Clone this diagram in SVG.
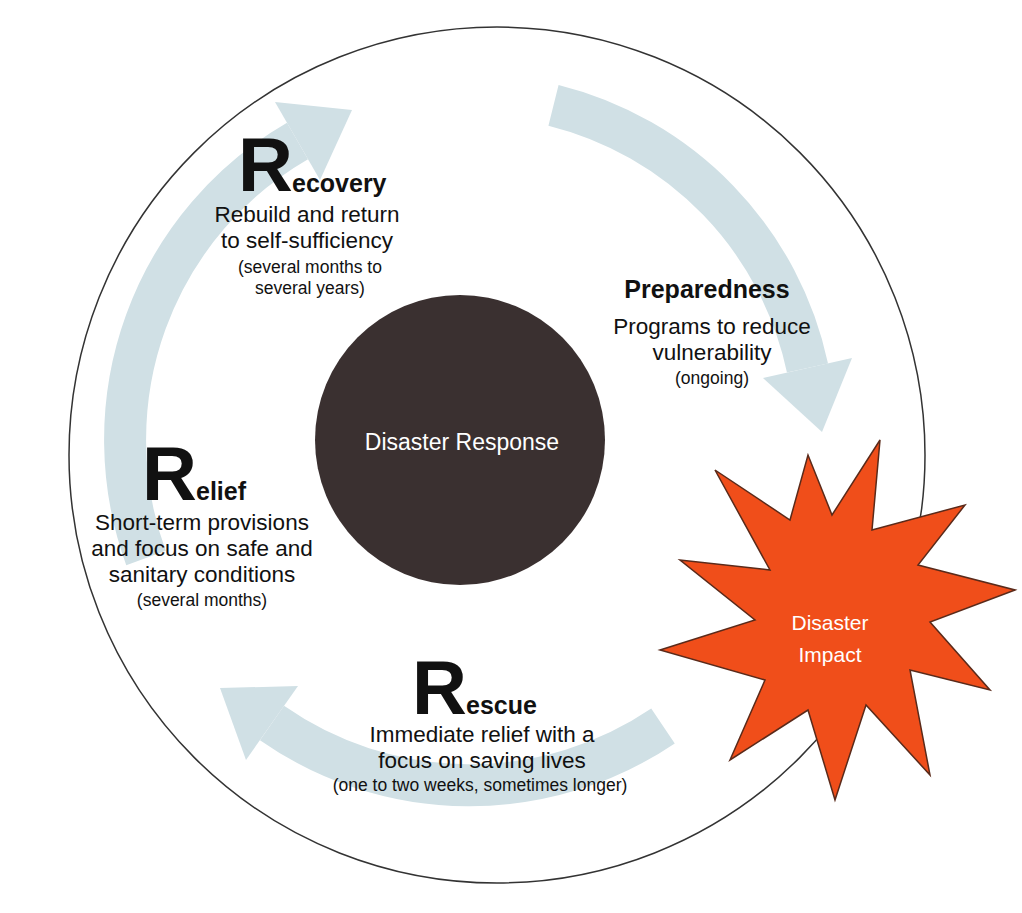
<svg xmlns="http://www.w3.org/2000/svg" width="1022" height="913" viewBox="0 0 1022 913">
<style>
.arc{fill:none;stroke:#d0e0e5;stroke-width:42}
.head{fill:#d0e0e5}
text{font-family:"Liberation Sans",Arial,sans-serif;fill:#111;text-anchor:middle}
.big{font-size:76px;font-weight:bold;text-anchor:start}
.ttl{font-size:25px;font-weight:bold;text-anchor:start}
.t{font-size:22.5px}
.s{font-size:17.5px}
</style>
<rect width="1022" height="913" fill="#fff"/>
<circle cx="497" cy="455" r="428" fill="none" stroke="#333" stroke-width="1.5"/>
<g id="connectors">
<path class="arc" d="M553.5,105.3 A345,345 0 0 1 807.5,368"/>
<polygon class="head" points="852,358 763,378 822,432"/>
<path class="arc" d="M146,558 A345,345 0 0 1 297.5,141"/>
<polygon class="head" points="275,102 320,180 352,110"/>
<path class="arc" d="M663,726 A345,345 0 0 1 272,723"/>
<polygon class="head" points="298,686 246,760 220,688"/>
</g>
<g id="center"><circle cx="460" cy="440" r="145" fill="#3a3030"/>
<text x="462" y="450" style="font-size:23px;fill:#fff">Disaster Response</text></g>
<g id="impact">
<polygon fill="#f04e1a" stroke="#5a2a1a" stroke-width="1.5" points="1015,590 930,622 990,690 910,670 930,775 866,705 835,800 808,710 730,760 765,680 660,650 755,620 680,560 770,570 715,470 790,520 808,455 832,515 880,440 872,530 965,505 918,565"/>
<text x="830" y="630" style="font-size:21px;fill:#fff">Disaster</text>
<text x="830" y="662" style="font-size:21px;fill:#fff">Impact</text></g>
<g id="recovery">
<text class="big" x="238" y="191">R</text><text class="ttl" x="292" y="192">ecovery</text>
<text class="t" x="307" y="222">Rebuild and return</text>
<text class="t" x="307" y="248">to self-sufficiency</text>
<text class="s" x="310" y="273">(several months to</text>
<text class="s" x="310" y="294">several years)</text></g>
<g id="preparedness">
<text x="707" y="298" style="font-size:25px;font-weight:bold">Preparedness</text>
<text class="t" x="712" y="334">Programs to reduce</text>
<text class="t" x="712" y="360">vulnerability</text>
<text class="s" x="712" y="384">(ongoing)</text></g>
<g id="relief">
<text class="big" x="142" y="500">R</text><text class="ttl" x="196" y="500">elief</text>
<text class="t" x="202" y="530">Short-term provisions</text>
<text class="t" x="202" y="556">and focus on safe and</text>
<text class="t" x="202" y="582">sanitary conditions</text>
<text class="s" x="202" y="606">(several months)</text></g>
<g id="rescue">
<text class="big" x="412" y="714">R</text><text class="ttl" x="466" y="714">escue</text>
<text class="t" x="482" y="742">Immediate relief with a</text>
<text class="t" x="482" y="768">focus on saving lives</text>
<text class="s" x="480" y="791">(one to two weeks, sometimes longer)</text></g>
</svg>
